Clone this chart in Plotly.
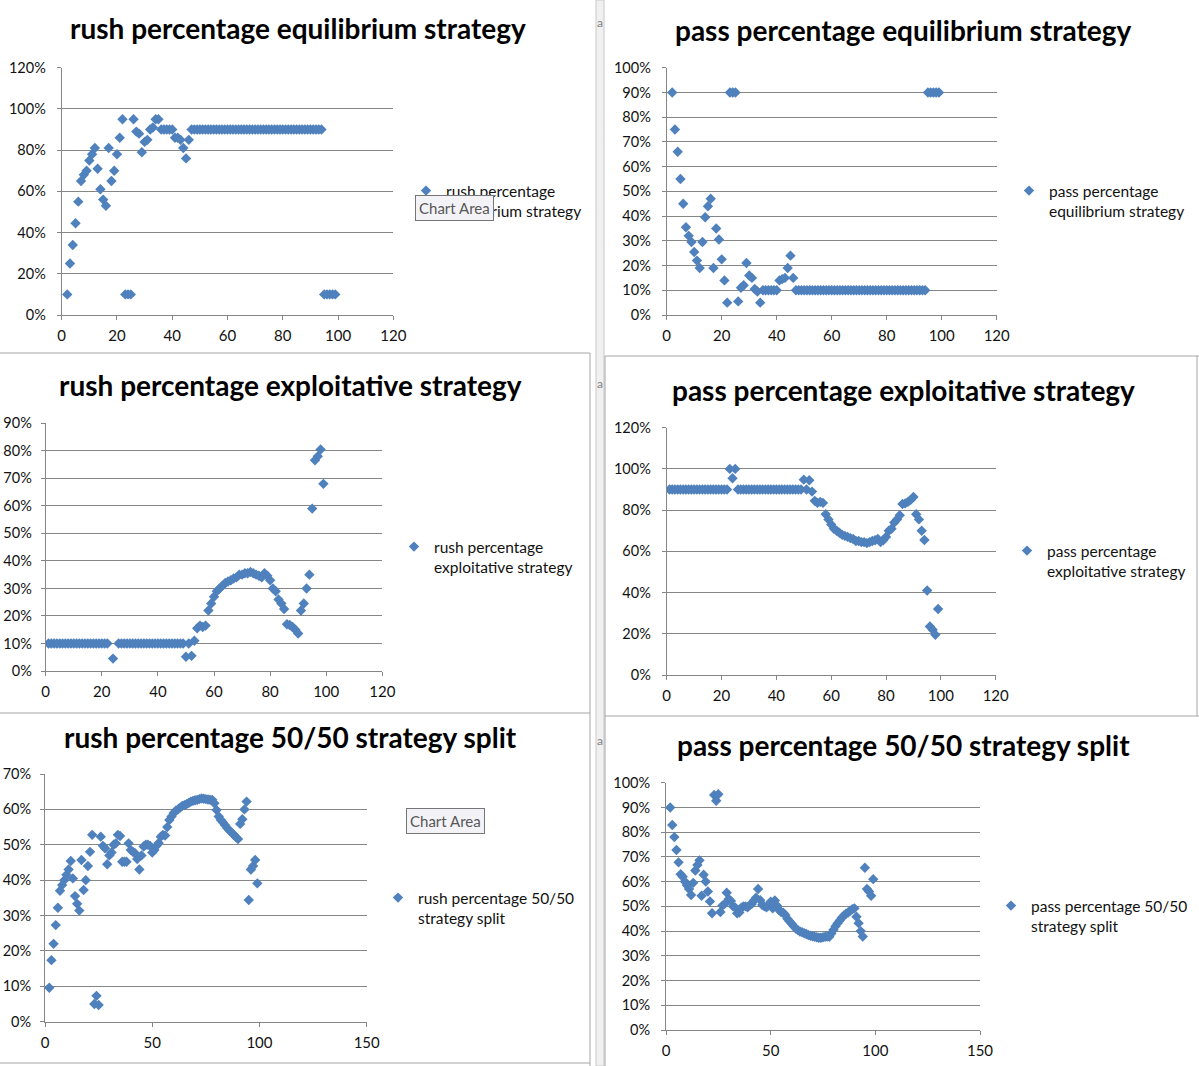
import plotly.graph_objects as go

# yard line (x) and play share in percent
rush_eq_x = list(range(2, 100))
rush_eq = [10, 25, 34, 44.5, 55, 65, 68, 70, 75, 78,
           81, 71, 61, 56, 53, 81, 65, 70, 78, 86,
           95, 10, 10, 10, 95, 89, 88, 79, 84, 85,
           90, 91, 95, 95, 90, 90, 90, 90, 90, 86,
           86, 85, 81, 76, 85, 90, 90, 90, 90, 90,
           90, 90, 90, 90, 90, 90, 90, 90, 90, 90,
           90, 90, 90, 90, 90, 90, 90, 90, 90, 90,
           90, 90, 90, 90, 90, 90, 90, 90, 90, 90,
           90, 90, 90, 90, 90, 90, 90, 90, 90, 90,
           90, 90, 90, 10, 10, 10, 10, 10]

pass_eq_x = list(range(2, 100))
pass_eq = [90, 75, 66, 55, 45, 35.5, 32, 29.5, 25.5, 22,
           19, 29.5, 39.5, 44, 47, 19, 35, 30.5, 22.5, 14,
           5, 90, 90, 90, 5.5, 11, 12, 21, 16, 15,
           10.5, 9.5, 5, 10, 10, 10, 10, 10, 10, 14,
           14.5, 15, 19, 24, 15, 10, 10, 10, 10, 10,
           10, 10, 10, 10, 10, 10, 10, 10, 10, 10,
           10, 10, 10, 10, 10, 10, 10, 10, 10, 10,
           10, 10, 10, 10, 10, 10, 10, 10, 10, 10,
           10, 10, 10, 10, 10, 10, 10, 10, 10, 10,
           10, 10, 10, 90, 90, 90, 90, 90]

rush_ex_x = list(range(1, 100))
rush_ex = [10, 10, 10, 10, 10, 10, 10, 10, 10, 10,
           10, 10, 10, 10, 10, 10, 10, 10, 10, 10,
           10, 10, None, 4.5, None, 10, 10, 10, 10, 10,
           10, 10, 10, 10, 10, 10, 10, 10, 10, 10,
           10, 10, 10, 10, 10, 10, 10, 10, 10, 5.2,
           10, 5.5, 11, 15.5, 16.5, 16, 16.5, 22, 24.5, 27,
           29, 30, 31, 32, 32.5, 33, 33.6, 34, 35, 35,
           35.5, 35.5, 36, 35.5, 35, 34.6, 34, 35.5, 34.6, 33,
           30, 29, 26, 24.5, 22.5, 17, 16.7, 16, 15, 13.6,
           22, 24.5, 30, 35, 59, 76.6, 78, 80.5, 68]

pass_ex_x = list(range(1, 100))
pass_ex = [90, 90, 90, 90, 90, 90, 90, 90, 90, 90,
           90, 90, 90, 90, 90, 90, 90, 90, 90, 90,
           90, 90, 100, 95.5, 100, 90, 90, 90, 90, 90,
           90, 90, 90, 90, 90, 90, 90, 90, 90, 90,
           90, 90, 90, 90, 90, 90, 90, 90, 90, 94.8,
           90, 94.5, 89, 84.5, 83.5, 84, 83.5, 78, 75.5, 73,
           71, 70, 69, 68, 67.5, 67, 66.4, 66, 65, 65,
           64.5, 64.5, 64, 64.5, 65, 65.4, 66, 64.5, 65.4, 67,
           70, 71, 74, 75.5, 77.5, 83, 83.3, 84, 85, 86.4,
           78, 75.5, 70, 65.5, 41, 23.5, 22, 19.5, 32]

rush_split_x = list(range(2, 100))
rush_split = [9.6, 17.4, 22, 27.3, 32.2, 37, 38.6, 40, 41.5, 43,
              45.4, 40.5, 35.5, 33.3, 31.4, 45.7, 37.2, 40, 44, 48,
              52.8, 5, 7.3, 4.7, 52.3, 49.7, 49, 44.5, 47, 47.8,
              50, 50.4, 52.8, 52.5, 45.2, 45.2, 45.2, 50.4, 48.5, 48,
              47.6, 46, 43, 47, 49.5, 50, 50, 49.7, 47.8, 48.5,
              49.7, 50.5, 52.3, 52.8, 52.6, 55, 57, 58, 59, 59.6,
              60, 60.5, 61, 61.2, 61.5, 61.8, 62.2, 62.4, 62.6, 62.7,
              62.9, 63.1, 63, 62.9, 62.8, 62.7, 62.7, 61.7, 59.8, 58,
              57, 56.3, 55.5, 54.7, 54, 53.5, 52.8, 52.2, 51.6, 55.9,
              57.2, 60, 62.2, 34.4, 43, 44, 45.7, 39.1]

pass_split_x = list(range(2, 100))
pass_split = [90, 82.9, 78, 72.8, 67.8, 63, 62, 60, 58.5, 57,
              54.6, 59.5, 64.5, 66.7, 68.6, 54.3, 62.8, 60, 56, 52,
              47.2, 95, 92.7, 95.3, 47.7, 50.3, 51, 55.5, 53, 52.2,
              50, 49.6, 47.2, 47.5, 49.5, 50, 50, 49.6, 50.5, 51,
              52.4, 53.5, 57, 52.5, 50.5, 50, 49.6, 50.3, 51.9, 49.2,
              52.4, 50.3, 48.5, 47.7, 47.4, 46.5, 45, 44, 43, 42,
              41, 40.4, 39.8, 39.5, 39.1, 38.8, 38.4, 38.1, 37.9, 37.7,
              37.5, 37.3, 37.3, 37.5, 37.7, 37.8, 37.7, 39, 40.5, 42,
              43.2, 44.3, 45.4, 46.3, 47, 47.5, 48.2, 48.8, 49.2, 45.8,
              43.2, 40, 37.8, 65.6, 57, 56, 54.3, 61]

W, H = 1199, 1066
FONT = "Lato"
BLUE = "#4F81BD"
GRID = "#868686"
INK = "#111111"


def fx(p):
    return p / W


def fy(p):
    return 1 - p / H


# plot box is (left, right, top, bottom) in pixels of the screenshot
panels = [
    dict(title="rush percentage equilibrium strategy", name="rush percentage<br>equilibrium strategy",
         x=rush_eq_x, y=rush_eq, xmax=120, xstep=20, ymax=120, ystep=20, gap=8,
         box=(61.7, 393.3, 67.7, 315), head=(298, 28), leg=(446, 192)),
    dict(title="pass percentage equilibrium strategy", name="pass percentage<br>equilibrium strategy",
         x=pass_eq_x, y=pass_eq, xmax=120, xstep=20, ymax=100, ystep=10, gap=8,
         box=(666.7, 996.7, 67.7, 315), head=(903, 30), leg=(1049, 192)),
    dict(title="rush percentage exploitative strategy", name="rush percentage<br>exploitative strategy",
         x=rush_ex_x, y=rush_ex, xmax=120, xstep=20, ymax=90, ystep=10, gap=6,
         box=(45.7, 382.3, 423.3, 671), head=(290, 385), leg=(434, 548)),
    dict(title="pass percentage exploitative strategy", name="pass percentage<br>exploitative strategy",
         x=pass_ex_x, y=pass_ex, xmax=120, xstep=20, ymax=120, ystep=20, gap=8,
         box=(666.7, 995.7, 427.7, 675), head=(903, 390), leg=(1047, 552)),
    dict(title="rush percentage 50/50 strategy split", name="rush percentage 50/50<br>strategy split",
         x=rush_split_x, y=rush_split, xmax=150, xstep=50, ymax=70, ystep=10, gap=6,
         box=(45, 366.7, 774, 1021.7), head=(290, 737), leg=(418, 899)),
    dict(title="pass percentage 50/50 strategy split", name="pass percentage 50/50<br>strategy split",
         x=pass_split_x, y=pass_split, xmax=150, xstep=50, ymax=100, ystep=10, gap=8,
         box=(666, 980, 782.7, 1030), head=(903, 745), leg=(1031, 907)),
]

fig = go.Figure()
layout = dict(
    width=W, height=H,
    margin=dict(l=0, r=0, t=0, b=0, autoexpand=False),
    paper_bgcolor="white", plot_bgcolor="white",
    font=dict(family=FONT, size=15, color=INK),
    showlegend=True,
    annotations=[], shapes=[],
)

for i, p in enumerate(panels, start=1):
    sfx = "" if i == 1 else str(i)
    left, right, top, bottom = p["box"]
    fig.add_trace(go.Scatter(
        x=p["x"], y=p["y"], mode="markers", name=p["name"], showlegend=True,
        marker=dict(symbol="diamond", size=8, color=BLUE, line=dict(width=0)),
        xaxis="x" + sfx, yaxis="y" + sfx, legend="legend" + sfx,
    ))
    layout["xaxis" + sfx] = dict(
        domain=[fx(left), fx(right)], anchor="y" + sfx, automargin=False,
        range=[0, p["xmax"]], dtick=p["xstep"], tick0=0,
        showgrid=False, zeroline=False, showline=True, linecolor=GRID,
        ticks="outside", ticklen=4, tickcolor=GRID, ticklabelstandoff=3,
        tickfont=dict(family=FONT, size=15, color=INK), fixedrange=True,
    )
    layout["yaxis" + sfx] = dict(
        domain=[fy(bottom), fy(top)], anchor="x" + sfx, automargin=False,
        range=[0, p["ymax"]], dtick=p["ystep"], tick0=0, ticksuffix="%",
        showgrid=True, gridcolor=GRID, gridwidth=1, zeroline=False,
        showline=True, linecolor=GRID,
        ticks="outside", ticklen=4, tickcolor=GRID, ticklabelstandoff=p["gap"],
        tickfont=dict(family=FONT, size=14.5, color=INK), fixedrange=True,
    )
    lx, ly = p["leg"]
    layout["legend" + sfx] = dict(
        visible=True,
        x=fx(lx - 40), y=fy(ly - 18), xanchor="left", yanchor="top",
        bgcolor="rgba(0,0,0,0)", borderwidth=0, valign="top",
        font=dict(family=FONT, size=15.5, color=INK),
    )
    hx, hy = p["head"]
    layout["annotations"].append(dict(
        text=p["title"], x=fx(hx), y=fy(hy), xref="paper", yref="paper",
        xanchor="center", yanchor="middle", showarrow=False,
        font=dict(family=FONT, size=28, color="black", weight="bold"),
    ))

# Excel "Chart Area" hover tips caught in the screenshot
for cx, cy in [(454.5, 208), (445.5, 821)]:
    layout["annotations"].append(dict(
        text="Chart Area", x=fx(cx), y=fy(cy), xref="paper", yref="paper",
        xanchor="center", yanchor="middle", showarrow=False,
        font=dict(family=FONT, size=15, color="#575757"),
        bgcolor="#f3f3f7", bordercolor="#767676", borderwidth=1, borderpad=3,
    ))

# stray spreadsheet cell letters showing in the gap between the columns
for cy in [22, 383, 740]:
    layout["annotations"].append(dict(
        text="a", x=fx(600), y=fy(cy), xref="paper", yref="paper",
        xanchor="center", yanchor="middle", showarrow=False,
        font=dict(family=FONT, size=12, color="#7f7f7f"),
    ))

# chart frames and the spreadsheet gap between the two columns
EDGE = "#a6a6a6"
layout["shapes"].append(dict(type="rect", xref="paper", yref="paper",
                             x0=fx(596), x1=fx(604), y0=0, y1=1,
                             fillcolor="#f0f0f0", line=dict(color="#c8c8c8", width=1), layer="below"))
frame_lines = [
    (590, 353, 590, 1066), (0, 353, 590, 353), (0, 713, 590, 713), (0, 1063, 590, 1063),
    (605, 356, 605, 1066), (605, 356, 1199, 356), (605, 716, 1199, 716), (1197, 356, 1197, 716),
]
for x0, y0, x1, y1 in frame_lines:
    layout["shapes"].append(dict(type="line", xref="paper", yref="paper",
                                 x0=fx(x0), y0=fy(y0), x1=fx(x1), y1=fy(y1),
                                 line=dict(color=EDGE, width=1), layer="below"))

fig.update_layout(**layout)
fig.write_html("out.html", config={"displayModeBar": False},
               post_script="document.body.style.margin='0';")
